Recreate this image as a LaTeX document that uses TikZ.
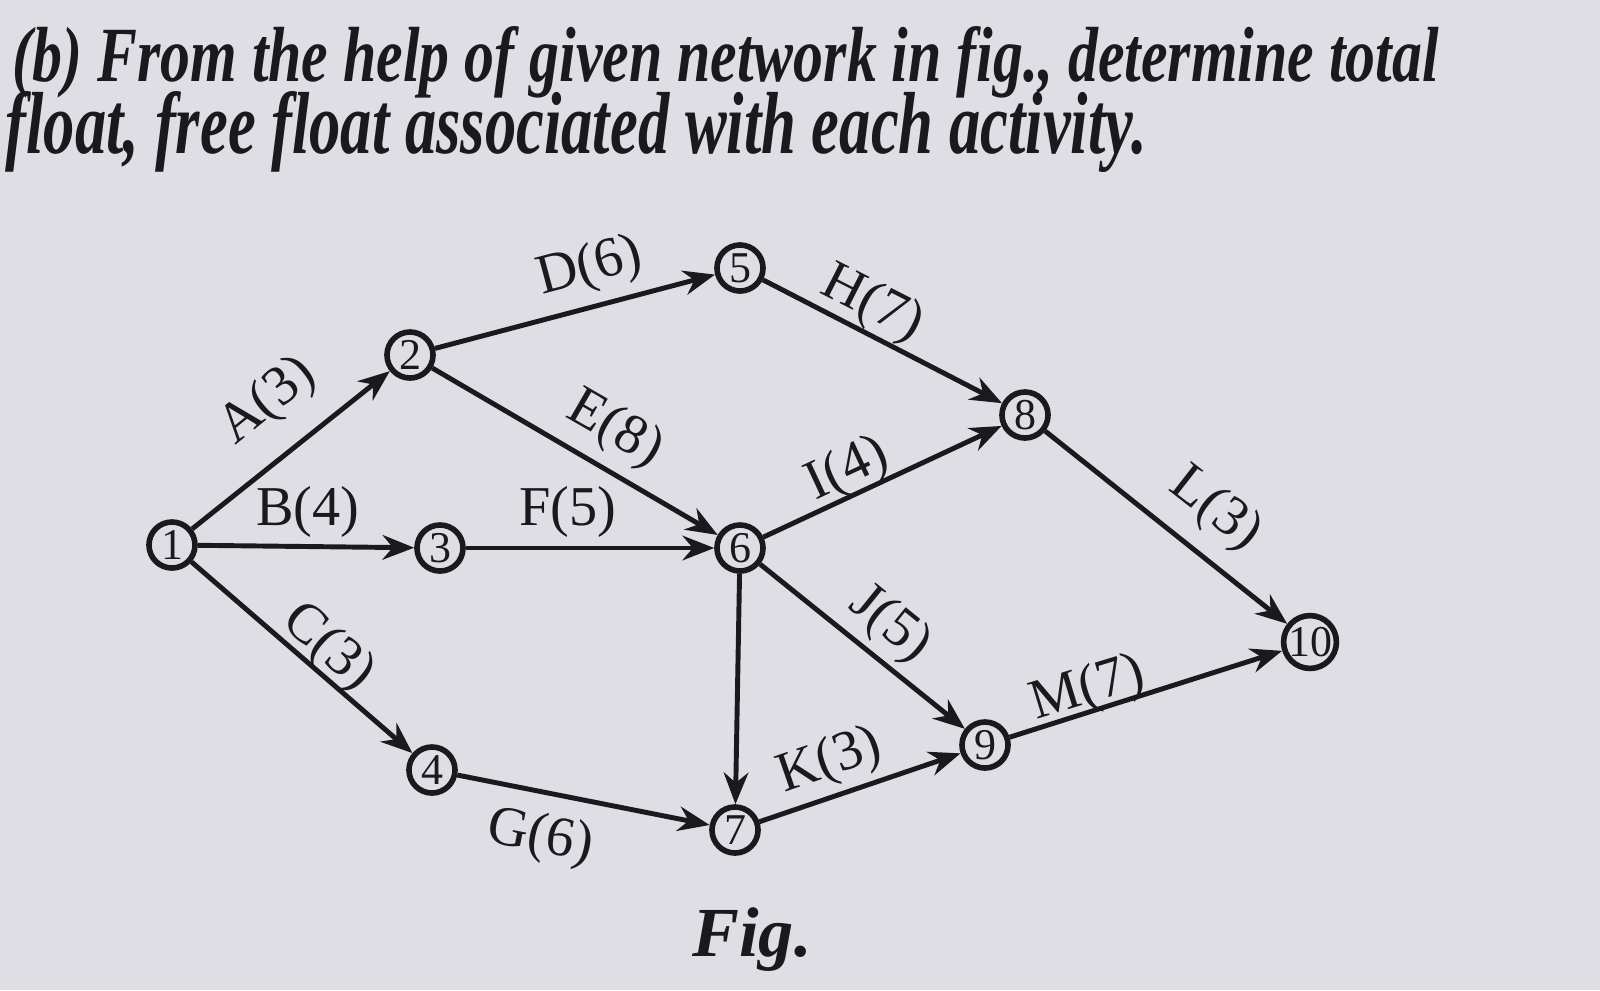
\documentclass[tikz,border=0pt]{standalone}
\usepackage{fontspec}
\setmainfont{Liberation Serif}
\usetikzlibrary{arrows.meta}
\definecolor{bg}{RGB}{222,222,228}
\definecolor{ink}{RGB}{25,25,30}
\begin{document}
\begin{tikzpicture}[x=0.01cm,y=-0.01cm,
  ev/.style={circle,draw=ink,line width=1.6pt,minimum size=0.46cm,inner sep=0pt,font=\fontsize{12.5}{12.5}\selectfont,text=ink},
  act/.style={draw=ink,line width=1.4pt,-{Stealth[length=9pt,width=7pt]}},
  lbl/.style={font=\fontsize{16}{16}\selectfont,text=ink,inner sep=1pt}]
\fill[bg] (0,0) rectangle (1600,990);
\useasboundingbox (0,0) rectangle (1600,990);
\node[anchor=west,inner sep=0pt,font=\bfseries\itshape,text=ink] (t1) at (12,62) {\resizebox{14.25cm}{0.55cm}{(b) From the help of given network in fig., determine total}};
\node[anchor=west,inner sep=0pt,font=\bfseries\itshape,text=ink] (t2) at (5,132) {\resizebox{11.4cm}{0.62cm}{float, free float associated with each activity.}};
\node[ev] (n1) at (172,545) {1};
\node[ev] (n2) at (410,355) {2};
\node[ev] (n3) at (440,548) {3};
\node[ev] (n4) at (432,770) {4};
\node[ev] (n5) at (740,268) {5};
\node[ev] (n6) at (740,548) {6};
\node[ev] (n7) at (735,830) {7};
\node[ev] (n8) at (1025,415) {8};
\node[ev] (n9) at (985,745) {9};
\node[ev] (n10) at (1310,642) {10};
\draw[act] (n1)--(n2);
\draw[act] (n1)--(n3);
\draw[act] (n1)--(n4);
\draw[act] (n2)--(n5);
\draw[act] (n2)--(n6);
\draw[act] (n3)--(n6);
\draw[act] (n4)--(n7);
\draw[act] (n5)--(n8);
\draw[act] (n6)--(n8);
\draw[act] (n6)--(n9);
\draw[act] (n6)--(n7);
\draw[act] (n7)--(n9);
\draw[act] (n8)--(n10);
\draw[act] (n9)--(n10);
\node[lbl,rotate=39] (la) at (268,402) {A(3)};
\node[lbl] (lb) at (308,512) {B(4)};
\node[lbl,rotate=-41] (lc) at (328,648) {C(3)};
\node[lbl,rotate=15] (ld) at (590,268) {D(6)};
\node[lbl,rotate=-30] (le) at (615,430) {E(8)};
\node[lbl] (lf) at (568,512) {F(5)};
\node[lbl,rotate=-11] (lg) at (540,838) {G(6)};
\node[lbl,rotate=-27] (lh) at (872,305) {H(7)};
\node[lbl,rotate=25] (li) at (848,470) {I(4)};
\node[lbl,rotate=-39] (lj) at (890,625) {J(5)};
\node[lbl,rotate=19] (lk) at (830,762) {K(3)};
\node[lbl,rotate=-38] (ll) at (1215,510) {L(3)};
\node[lbl,rotate=17] (lm) at (1088,690) {M(7)};
\node[font=\fontsize{20}{20}\selectfont\bfseries\itshape,text=ink] (fig) at (752,940) {Fig.};
\end{tikzpicture}
\end{document}
